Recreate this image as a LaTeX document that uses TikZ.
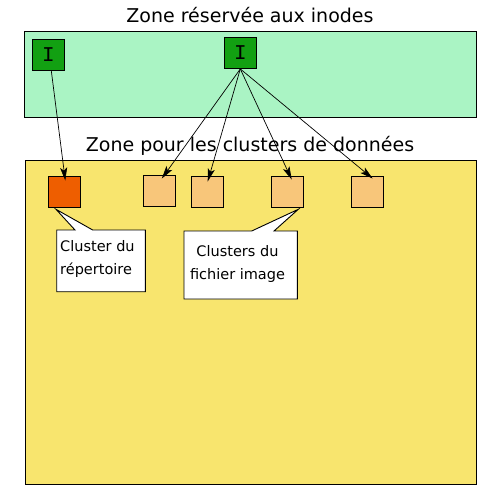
\documentclass[tikz,border=0pt]{standalone}
\usepackage{fontspec}
\setmainfont{DejaVu Sans}
\newfontfamily\monofont{Liberation Mono}
\usetikzlibrary{arrows.meta,calc}
\definecolor{zonegreen}{HTML}{AAF4C4}
\definecolor{inodegreen}{HTML}{12A012}
\definecolor{zoneyellow}{HTML}{F8E56E}
\definecolor{clusterlight}{HTML}{F8C67A}
\definecolor{clusterred}{HTML}{EE5E00}
\tikzset{
  zone/.style={draw=black, line width=0.9pt},
  inodebox/.style={draw=black, line width=0.9pt, fill=inodegreen, minimum width=32pt, minimum height=31pt, inner sep=0pt, font=\monofont\fontsize{21}{21}\selectfont},
  clusterbox/.style={draw=black, line width=0.9pt, fill=clusterlight, minimum width=32pt, minimum height=31pt, inner sep=0pt},
  title/.style={anchor=base, font=\fontsize{19}{19}\selectfont},
  callout/.style={draw=black, line width=0.9pt, fill=white},
  callouttext/.style={font=\fontsize{14.5}{23}\selectfont, inner sep=0pt},
  link/.style={line width=0.7pt, arrows={-Stealth[length=13pt,width=7pt,inset=3pt]}}
}
\begin{document}
\begin{tikzpicture}[x=1pt,y=-1pt]
\useasboundingbox (0,0) rectangle (500,500);
% zones
\fill[zonegreen] (24.5,31.5) rectangle (476,117);
\draw[zone] (24.5,31.5) rectangle (476,117);
\fill[zoneyellow] (25,160) rectangle (476,484);
\draw[zone] (25,160) rectangle (476,484);
\node[title] (t1) at (250,22.7) {Zone réservée aux inodes};
\node[title] (t2) at (250,151.7) {Zone pour les clusters de données};
% inodes
\node[inodebox] (i1) at (48.3,54.8) {I};
\node[inodebox] (i2) at (240.3,53) {I};
% clusters
\node[clusterbox, fill=clusterred] (c0) at (64.3,191.5) {};
\node[clusterbox] (c1) at (159.3,190.5) {};
\node[clusterbox] (c2) at (207.2,191.5) {};
\node[clusterbox] (c3) at (287.2,191.5) {};
\node[clusterbox] (c4) at (367.2,191.5) {};
% links
\draw[link] ($(i1.south)+(3,0)$) -- ($(c0.north)+(1,5)$);
\draw[link] (i2.south) -- ($(c1.north)+(2.5,4)$);
\draw[link] (i2.south) -- ($(c2.north)+(0.5,6)$);
\draw[link] (i2.south) -- ($(c3.north)+(4.5,4)$);
\draw[link] (i2.south) -- ($(c4.north)+(5.5,3)$);
% callouts
\coordinate (p0) at (56,209.3);
\coordinate (p1) at (298.3,209.3);
\draw[callout] (56.7,230) -- (75,230) -- (p0) -- (92.7,230) -- (145.3,230) -- (145.3,291.7) -- (56.7,291.7) -- cycle;
\draw[callout] (184,231) -- (251.7,231) -- (p1) -- (274,231) -- (297.3,231) -- (297.3,299) -- (184,299) -- cycle;
\node[callouttext, align=left, anchor=west] (k0) at (60,259.2) {Cluster du\\répertoire};
\node[callouttext, align=center] (k1) at (237.5,264.3) {Clusters du\\fichier image};
\end{tikzpicture}
\end{document}
